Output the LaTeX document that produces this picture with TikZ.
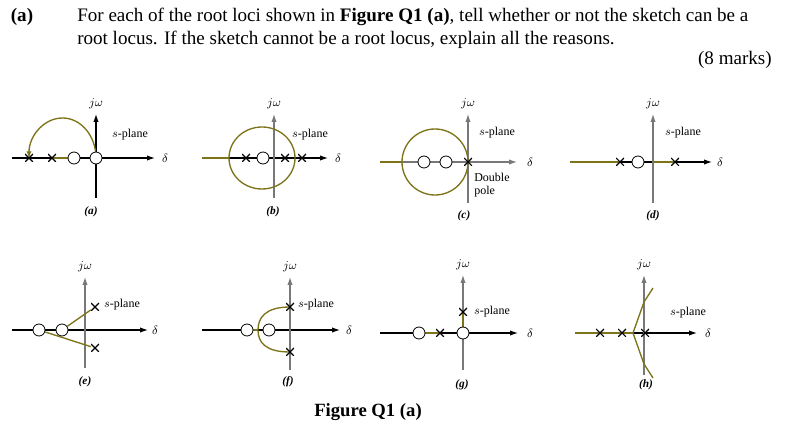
\documentclass[tikz,border=0pt]{standalone}
\usepackage{fontspec}
\setmainfont{Liberation Serif}
\usetikzlibrary{arrows.meta}
\definecolor{loc}{RGB}{125,115,25}
\definecolor{ax}{RGB}{120,120,120}
\tikzset{
 axl/.style={line width=0.8pt,-{Latex[length=6pt,width=4pt]}},
 zer/.style={circle,draw,fill=white,inner sep=0pt,minimum size=9pt,line width=0.6pt},
 pol/.style={inner sep=0pt,minimum size=6pt,path picture={\draw[line width=0.8pt](path picture bounding box.south west)--(path picture bounding box.north east)(path picture bounding box.north west)--(path picture bounding box.south east);}},
 lc/.style={loc,line width=1pt},
 lbl/.style={font=\fontsize{9}{10}\selectfont},
 panelcap/.style={font=\fontsize{8.5}{10}\selectfont\bfseries\itshape},
 txt/.style={font=\fontsize{14.3}{16}\selectfont,anchor=west,inner sep=0pt}
}
\begin{document}
\begin{tikzpicture}[x=0.75pt,y=-0.75pt]
\useasboundingbox (0,0) rectangle (790,431);
\node[font=\fontsize{14.3}{16}\selectfont\bfseries,inner sep=0pt] (qa) at (22,17) {(a)};
\node[txt] (t1) at (77,17) {For each of the root loci shown in \textbf{Figure Q1 (a)}, tell whether or not the sketch can be a};
\node[txt] (t2) at (77,40) {root locus. If the sketch cannot be a root locus, explain all the reasons.};
\node[font=\fontsize{14.3}{16}\selectfont,anchor=east,inner sep=0pt] (mk) at (772,60) {(8 marks)};
% (a)
\draw[axl] (12,158) -- (155,158);
\draw[axl] (96,198) -- (96,114);
\draw[lc] (52,158) -- (74,158);
\draw[lc,-{Latex[length=5pt,width=4pt]}] (96,158) arc[start angle=0,end angle=-180,x radius=33.5,y radius=40];
\node[pol] (a1) at (29,158) {}; \node[pol] (a2) at (52,158) {};
\node[zer] (a3) at (74,158) {}; \node[zer] (a4) at (96,158) {};
\node[lbl] at (96,104) {$j\omega$}; \node[lbl] at (130,135) {$s$-plane};
\node[lbl] at (165,158) {$\delta$}; \node[panelcap] at (91,212) {(a)};
% (b)
\draw[lc] (202,158) -- (229,158);
\draw[axl] (229,158) -- (328,158);
\draw[ax,axl] (274,198) -- (274,114);
\draw[lc] (262,158) ellipse[x radius=33,y radius=31];
\node[pol] at (246,158) {}; \node[zer] at (263,158) {};
\node[pol] at (285,158) {}; \node[pol] at (302,158) {};
\node[lbl] at (274,104) {$j\omega$}; \node[lbl] at (310,135) {$s$-plane};
\node[lbl] at (338,158) {$\delta$}; \node[panelcap] at (273,212) {(b)};
% (c)
\draw[lc] (380,162) -- (402,162);
\draw[ax,axl] (402,162) -- (517,162);
\draw[ax,axl] (468,203) -- (468,114);
\draw[lc] (435,162) circle[radius=33];
\node[zer] at (424,162) {}; \node[zer] at (446,162) {}; \node[pol] at (468,162) {};
\node[lbl] at (468,104) {$j\omega$}; \node[lbl] at (497,133) {$s$-plane};
\node[lbl] at (530,162) {$\delta$};
\node[lbl,align=left,anchor=north west,inner sep=0pt] at (474,173) {Double\\pole};
\node[panelcap] at (464,216) {(c)};
% (d)
\draw[lc] (570,162) -- (620,162);
\draw[axl] (620,162) -- (712,162);
\draw[lc] (653,162) -- (675,162);
\draw[ax,axl] (653,203) -- (653,114);
\node[pol] at (620,162) {}; \node[zer] at (638,162) {}; \node[pol] at (675,162) {};
\node[lbl] at (653,104) {$j\omega$}; \node[lbl] at (683,133) {$s$-plane};
\node[lbl] at (720,162) {$\delta$}; \node[panelcap] at (653,216) {(d)};
% (e)
\draw[axl] (12,330) -- (148,330);
\draw[ax,axl] (85,368) -- (85,277);
\node[zer] (e1) at (39,330) {}; \node[zer] (e2) at (62,330) {};
\node[pol] (e3) at (95,307) {}; \node[pol] (e4) at (95,348) {};
\draw[lc] (e2) -- (e3); \draw[lc] (e1) -- (e4);
\node[lbl] at (122,305) {$s$-plane}; \node[lbl] at (85,267) {$j\omega$};
\node[lbl] at (155,330) {$\delta$}; \node[panelcap] at (85,382) {(e)};
% (f)
\draw[axl] (202,330) -- (340,330);
\draw[ax,axl] (290,370) -- (290,277);
\draw[lc] (253,330) -- (258,330);
\draw[lc] (290,307) .. controls (265,307) and (258,318) .. (258,330) .. controls (258,342) and (265,352) .. (290,352);
\node[zer] at (247,330) {}; \node[zer] at (269,330) {};
\node[pol] at (290,307) {}; \node[pol] at (290,352) {};
\node[lbl] at (290,267) {$j\omega$}; \node[lbl] at (316,305) {$s$-plane};
\node[lbl] at (349,330) {$\delta$}; \node[panelcap] at (288,382) {(f)};
% (g)
\draw[axl] (380,333) -- (518,333);
\draw[ax,axl] (463,370) -- (463,275);
\draw[lc] (419,333) -- (440,333);
\draw[lc] (463,333) -- (463,312);
\node[zer] at (419,333) {}; \node[pol] at (440,333) {};
\node[zer] at (463,333) {}; \node[pol] at (463,312) {};
\node[lbl] at (463,265) {$j\omega$}; \node[lbl] at (492,312) {$s$-plane};
\node[lbl] at (530,333) {$\delta$}; \node[panelcap] at (462,385) {(g)};
% (h)
\draw[axl] (575,333) -- (697,333);
\draw[ax,axl] (644,375) -- (644,275);
\draw[lc] (575,333) -- (633,333);
\draw[lc] (653,288) -- (644,302) -- (633,333) -- (644,364) -- (653,378);
\node[pol] at (600,333) {}; \node[pol] at (622,333) {}; \node[pol] at (645,333) {};
\node[lbl] at (644,265) {$j\omega$}; \node[lbl] at (688,313) {$s$-plane};
\node[lbl] at (708,333) {$\delta$}; \node[panelcap] at (646,385) {(h)};
\node[font=\fontsize{14}{16}\selectfont\bfseries] (fig) at (368,412) {Figure Q1 (a)};
\end{tikzpicture}
\end{document}
